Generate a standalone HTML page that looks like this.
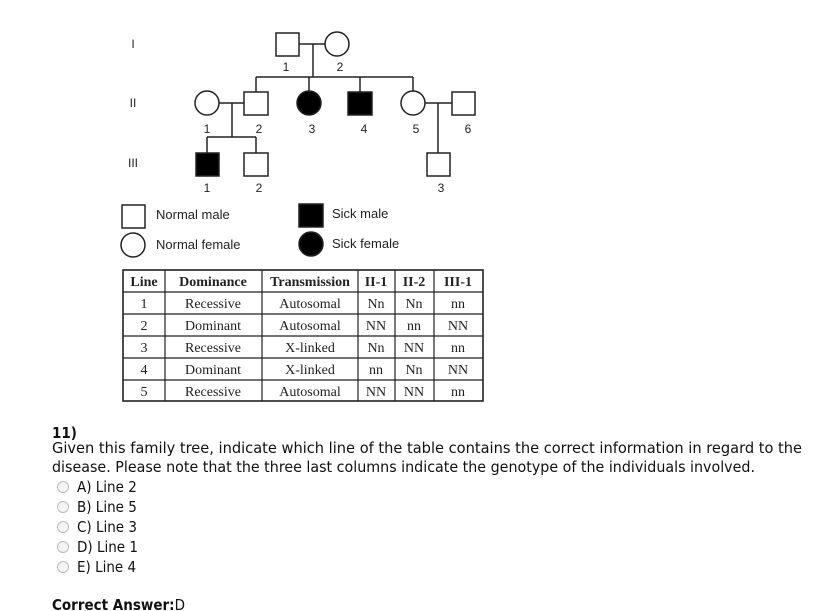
<!DOCTYPE html>
<html><head><meta charset="utf-8"><style>
html,body{margin:0;padding:0;background:#fff;width:835px;height:611px;overflow:hidden}
</style></head><body>
<svg width="835" height="611" viewBox="0 0 835 611" xmlns="http://www.w3.org/2000/svg">
<g stroke="#222" stroke-width="1.5" fill="#fff">
 <!-- Gen I -->
 <rect x="276" y="33" width="23" height="23"/>
 <circle cx="337" cy="44" r="12"/>
 <line x1="299" y1="44" x2="325" y2="44"/>
 <line x1="313" y1="44" x2="313" y2="77"/>
 <line x1="256" y1="77" x2="413" y2="77"/>
 <line x1="256" y1="77" x2="256" y2="92"/>
 <line x1="309" y1="77" x2="309" y2="91"/>
 <line x1="360" y1="77" x2="360" y2="92"/>
 <line x1="413" y1="77" x2="413" y2="91"/>
 <!-- Gen II -->
 <circle cx="207" cy="103" r="12"/>
 <rect x="244" y="92" width="24" height="23"/>
 <line x1="219" y1="103" x2="244" y2="103"/>
 <circle cx="309" cy="103" r="12" fill="#000"/>
 <rect x="348" y="92" width="24" height="23" fill="#000"/>
 <circle cx="413" cy="103" r="12"/>
 <rect x="452" y="92" width="23" height="23"/>
 <line x1="425" y1="103" x2="452" y2="103"/>
 <line x1="232" y1="103" x2="232" y2="137"/>
 <line x1="207" y1="137" x2="256" y2="137"/>
 <line x1="207" y1="137" x2="207" y2="153"/>
 <line x1="256" y1="137" x2="256" y2="153"/>
 <line x1="438" y1="103" x2="438" y2="153"/>
 <!-- Gen III -->
 <rect x="196" y="153" width="23" height="23" fill="#000"/>
 <rect x="244" y="153" width="24" height="23"/>
 <rect x="427" y="153" width="23" height="23"/>
 <!-- legend -->
 <rect x="122" y="205" width="23" height="23"/>
 <circle cx="133" cy="245" r="12"/>
 <rect x="299" y="204" width="24" height="23" fill="#000"/>
 <circle cx="311" cy="244" r="12" fill="#000"/>
</g>
<g font-family="Liberation Sans, sans-serif" font-size="12" fill="#222" text-anchor="middle">
 <text x="133" y="48">I</text><text x="133" y="107">II</text><text x="133" y="167">III</text>
 <text x="286" y="71">1</text><text x="340" y="71">2</text>
 <text x="207" y="133">1</text><text x="259" y="133">2</text><text x="312" y="133">3</text>
 <text x="364" y="133">4</text><text x="416" y="133">5</text><text x="468" y="133">6</text>
 <text x="207" y="192">1</text><text x="259" y="192">2</text><text x="441" y="192">3</text>
</g>
<g font-family="Liberation Sans, sans-serif" font-size="13" fill="#222">
 <text x="156" y="219">Normal male</text>
 <text x="156" y="249">Normal female</text>
 <text x="332" y="218">Sick male</text>
 <text x="332" y="248">Sick female</text>
</g>
<!-- table -->
<g stroke="#222" stroke-width="1.2" fill="none">
 <rect x="123" y="270" width="360" height="131" stroke-width="1.6"/>
 <line x1="165" y1="270" x2="165" y2="401"/>
 <line x1="262" y1="270" x2="262" y2="401"/>
 <line x1="358" y1="270" x2="358" y2="401"/>
 <line x1="395" y1="270" x2="395" y2="401"/>
 <line x1="434" y1="270" x2="434" y2="401"/>
 <line x1="123" y1="292" x2="483" y2="292"/>
 <line x1="123" y1="314" x2="483" y2="314"/>
 <line x1="123" y1="336" x2="483" y2="336"/>
 <line x1="123" y1="358" x2="483" y2="358"/>
 <line x1="123" y1="380" x2="483" y2="380"/>
</g>
<g font-family="Liberation Serif, serif" font-size="14" fill="#222" text-anchor="middle">
 <g font-weight="bold">
 <text x="144" y="286">Line</text><text x="213" y="286">Dominance</text><text x="310" y="286">Transmission</text>
 <text x="376" y="286">II-1</text><text x="414" y="286">II-2</text><text x="458" y="286">III-1</text>
 </g>
 <text x="144" y="308">1</text><text x="213" y="308">Recessive</text><text x="310" y="308">Autosomal</text><text x="376" y="308">Nn</text><text x="414" y="308">Nn</text><text x="458" y="308">nn</text>
 <text x="144" y="330">2</text><text x="213" y="330">Dominant</text><text x="310" y="330">Autosomal</text><text x="376" y="330">NN</text><text x="414" y="330">nn</text><text x="458" y="330">NN</text>
 <text x="144" y="352">3</text><text x="213" y="352">Recessive</text><text x="310" y="352">X-linked</text><text x="376" y="352">Nn</text><text x="414" y="352">NN</text><text x="458" y="352">nn</text>
 <text x="144" y="374">4</text><text x="213" y="374">Dominant</text><text x="310" y="374">X-linked</text><text x="376" y="374">nn</text><text x="414" y="374">Nn</text><text x="458" y="374">NN</text>
 <text x="144" y="396">5</text><text x="213" y="396">Recessive</text><text x="310" y="396">Autosomal</text><text x="376" y="396">NN</text><text x="414" y="396">NN</text><text x="458" y="396">nn</text>
</g>
<!-- question -->
<g font-family="DejaVu Sans Condensed, DejaVu Sans, sans-serif" font-size="15" fill="#111">
 <text x="52" y="438" font-weight="bold">11)</text>
 <text x="52" y="453" textLength="750" lengthAdjust="spacingAndGlyphs">Given this family tree, indicate which line of the table contains the correct information in regard to the</text>
 <text x="52" y="472" textLength="703" lengthAdjust="spacingAndGlyphs">disease. Please note that the three last columns indicate the genotype of the individuals involved.</text>
 <text x="77" y="492">A) Line 2</text>
 <text x="77" y="512">B) Line 5</text>
 <text x="77" y="532">C) Line 3</text>
 <text x="77" y="552">D) Line 1</text>
 <text x="77" y="572">E) Line 4</text>
 <text x="52" y="610" font-weight="bold">Correct Answer:<tspan font-weight="normal">D</tspan></text>
</g>
<g fill="#f4f4f4" stroke="#bbb" stroke-width="1">
 <circle cx="63" cy="487" r="5.5"/><circle cx="63" cy="507" r="5.5"/><circle cx="63" cy="527" r="5.5"/>
 <circle cx="63" cy="547" r="5.5"/><circle cx="63" cy="567" r="5.5"/>
</g>
</svg>
</body></html>
